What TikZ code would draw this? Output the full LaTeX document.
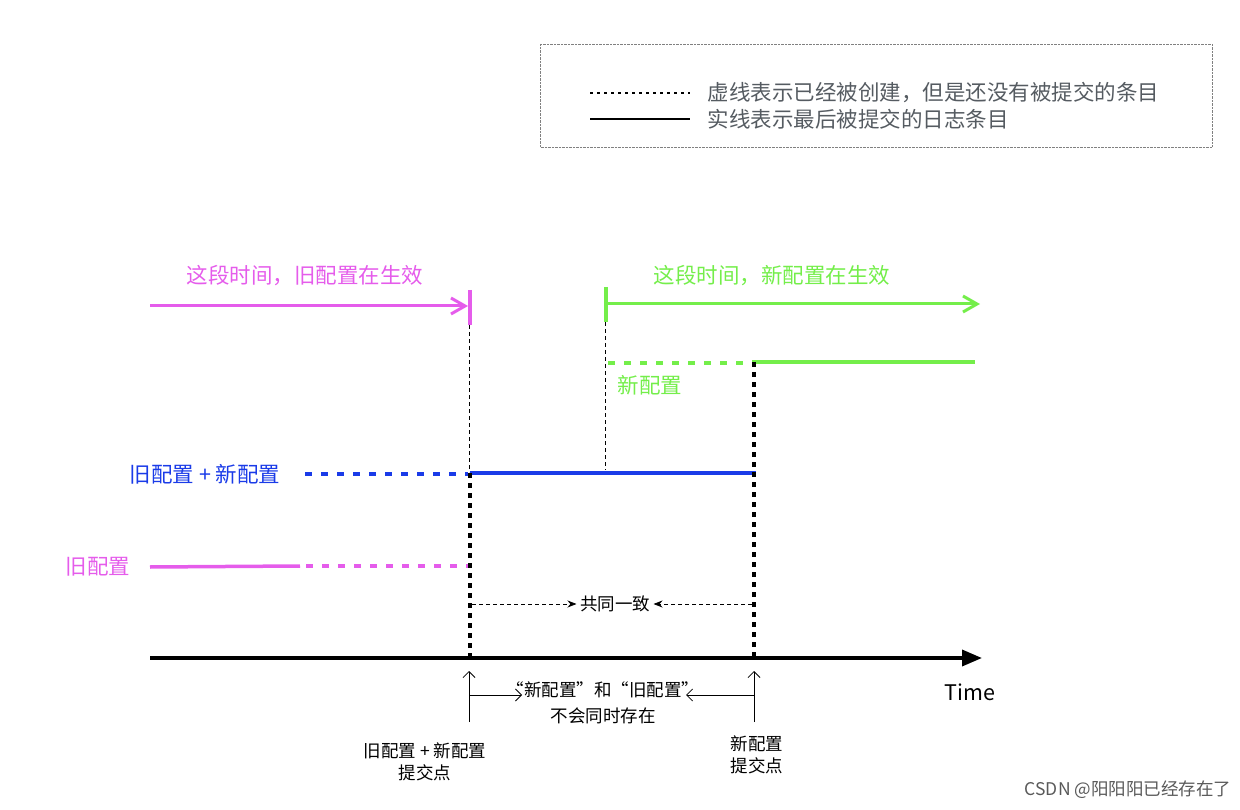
\documentclass[tikz,border=0pt]{standalone}
\usepackage{fontspec}
\setmainfont{Noto Sans CJK SC}
\usetikzlibrary{arrows.meta}
\definecolor{mag}{HTML}{E55CEB}
\definecolor{grn}{HTML}{74EE4A}
\definecolor{blu}{HTML}{1A3BE8}
\definecolor{lg}{HTML}{555B61}
\begin{document}
\begin{tikzpicture}[x=1pt,y=-1pt,
  big/.style={font=\fontsize{21.5}{24}\selectfont},
  sm/.style={font=\fontsize{17.5}{22}\selectfont},
  thk/.style={line width=3.5pt},
  dot/.style={line width=3.5pt,dash pattern=on 7pt off 9pt},
  thin dash/.style={line width=0.7pt,dash pattern=on 4pt off 3pt}]
\useasboundingbox (0,0) rectangle (1240,810);
% legend
\draw[gray,densely dotted] (540,44) rectangle (1212,147);
\coordinate (l1a) at (590,93); \coordinate (l1b) at (690,93);
\coordinate (l2a) at (590,119); \coordinate (l2b) at (690,119);
\draw[line width=1.6pt,dash pattern=on 3pt off 4pt] (l1a)--(l1b);
\draw[line width=2.2pt] (l2a)--(l2b);
\node[anchor=west,big,text=lg] (t1) at (704,93) {虚线表示已经被创建，但是还没有被提交的条目};
\node[anchor=west,big,text=lg] (t2) at (704,119) {实线表示最后被提交的日志条目};
% top arrows
\coordinate (ma) at (150,306); \coordinate (mb) at (468,306);
\draw[mag,line width=3pt,-{Straight Barb[length=14pt,width=16pt]}] (ma)--(mb);
\draw[mag,line width=4pt] (470,290)--(470,325);
\node[big,text=mag] (mt) at (305,276) {这段时间，旧配置在生效};
\coordinate (ga) at (606,304); \coordinate (gb) at (980,304);
\draw[grn,line width=3pt,-{Straight Barb[length=14pt,width=16pt]}] (ga)--(gb);
\draw[grn,line width=4pt] (606,287)--(606,322);
\node[big,text=grn] (gt) at (772,276) {这段时间，新配置在生效};
% new config
\draw[grn,dot] (608,363)--(752,363);
\draw[grn,thk] (752,362)--(975,362);
\node[big,text=grn] (nc) at (650,385) {新配置};
\draw[thin dash] (469,325)--(469,472);
\draw[thin dash] (605,322)--(605,470);
% blue
\node[big,text=blu] (bl) at (205,474) {旧配置 + 新配置};
\draw[blu,dot] (305,474)--(468,474);
\draw[blu,thk] (470,473)--(756,473);
% magenta old
\node[big,text=mag] (ol) at (98,567) {旧配置};
\draw[mag,thk] (150,567)--(300,566);
\draw[mag,dot] (306,566)--(468,566);
% verticals
\draw[line width=3.5pt,dash pattern=on 5pt off 5pt] (470,473)--(470,657);
\draw[line width=3.5pt,dash pattern=on 5pt off 5pt] (754,362)--(754,657);
% consensus
\node[sm] (cs) at (615,604) {共同一致};
\draw[thin dash,-{Stealth[length=9pt,width=7pt]}] (472,604)--(cs.west);
\draw[thin dash,-{Stealth[length=9pt,width=7pt]}] (752,604)--(cs.east);
% timeline
\coordinate (ta) at (150,658); \coordinate (tb) at (982,658);
\draw[line width=3.5pt,-{Triangle[length=20pt,width=16pt]}] (ta)--(tb);
\node[big] (tm) at (970,692) {Time};
% bottom
\draw[line width=0.8pt,-{Straight Barb[length=6pt]}] (469,722)--(469,671);
\draw[line width=0.8pt,-{Straight Barb[length=6pt]}] (754,722)--(754,671);
\node[sm] (b1) at (603,690) {“新配置”和“旧配置”};
\node[sm] (b2) at (603,716) {不会同时存在};
\draw[line width=0.8pt,-{Straight Barb[length=6pt]}] (470,695)--(522,695);
\draw[line width=0.8pt,-{Straight Barb[length=6pt]}] (754,695)--(686,695);
\node[sm,align=center] (c1) at (425,762) {旧配置 + 新配置\\提交点};
\node[sm,align=center] (c2) at (757,755) {新配置\\提交点};
\node[sm,text=gray!70!black] (wm) at (1128,790) {CSDN @阳阳阳已经存在了};
\end{tikzpicture}
\end{document}
